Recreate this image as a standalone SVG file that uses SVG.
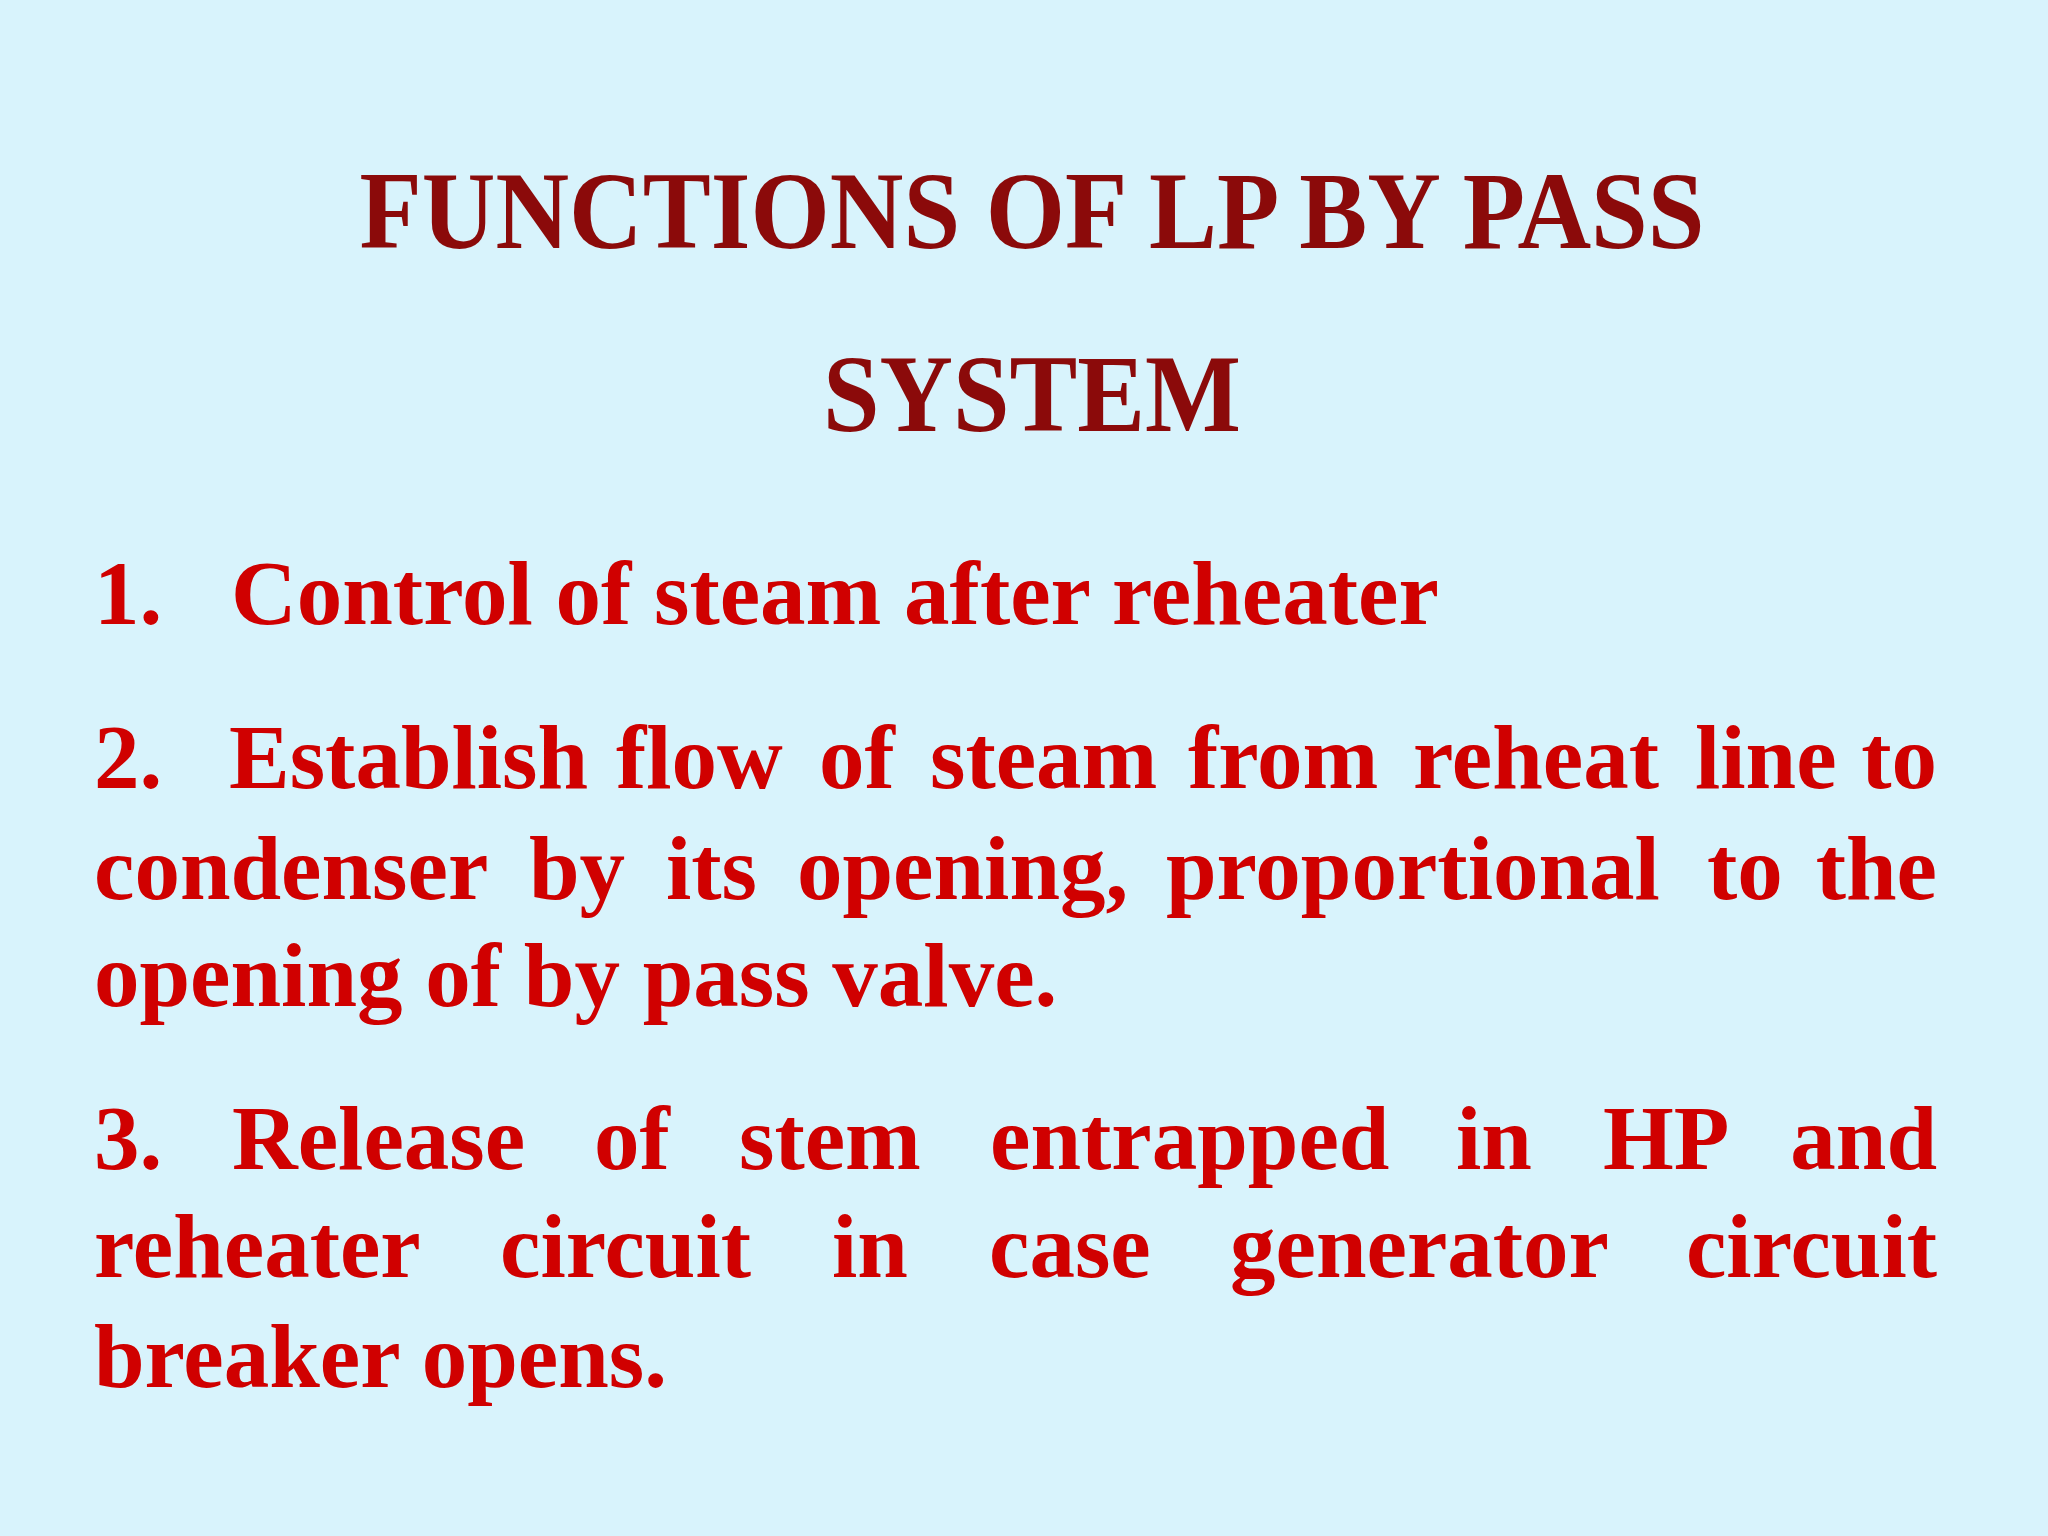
<svg xmlns="http://www.w3.org/2000/svg" width="2048" height="1536" viewBox="0 0 2048 1536">
<style>
.t{font-family:"Liberation Serif","Times New Roman",serif;font-weight:bold;fill:#8B0A0A;font-size:110px}
.b{font-family:"Liberation Serif","Times New Roman",serif;font-weight:bold;fill:#D00000;font-size:91px}
.e{text-anchor:end}
</style>
<rect width="2048" height="1536" fill="#D8F3FC"/>
<g id="title">
<text class="t" x="1032" y="248" text-anchor="middle" textLength="1345" lengthAdjust="spacingAndGlyphs">FUNCTIONS OF LP BY PASS</text>
<text class="t" x="1032" y="431" text-anchor="middle" textLength="418" lengthAdjust="spacingAndGlyphs">SYSTEM</text>
</g>
<g id="item1">
<text class="b" x="94" y="624">1.</text>
<text class="b" x="231" y="624">Control of steam after reheater</text>
</g>
<g id="item2">
<text class="b" y="788"><tspan x="94">2.</tspan><tspan x="229">Establish</tspan><tspan x="616">flow</tspan><tspan x="819">of</tspan><tspan x="930">steam</tspan><tspan x="1188">from</tspan><tspan x="1413">reheat</tspan><tspan x="1695">line</tspan></text>
<text class="b e" x="1937" y="788">to</text>
<text class="b" y="899"><tspan x="94">condenser</tspan><tspan x="529">by</tspan><tspan x="666">its</tspan><tspan x="797">opening,</tspan><tspan x="1166">proportional</tspan><tspan x="1707">to</tspan></text>
<text class="b e" x="1937" y="899">the</text>
<text class="b" x="94" y="1006">opening of by pass valve.</text>
</g>
<g id="item3">
<text class="b" y="1169"><tspan x="94">3.</tspan><tspan x="232">Release</tspan><tspan x="594">of</tspan><tspan x="739">stem</tspan><tspan x="990">entrapped</tspan><tspan x="1456">in</tspan><tspan x="1603">HP</tspan></text>
<text class="b e" x="1937" y="1169">and</text>
<text class="b" y="1277"><tspan x="94">reheater</tspan><tspan x="500">circuit</tspan><tspan x="832">in</tspan><tspan x="989">case</tspan><tspan x="1230">generator</tspan></text>
<text class="b e" x="1937" y="1277">circuit</text>
<text class="b" x="94" y="1387">breaker opens.</text>
</g>
</svg>
